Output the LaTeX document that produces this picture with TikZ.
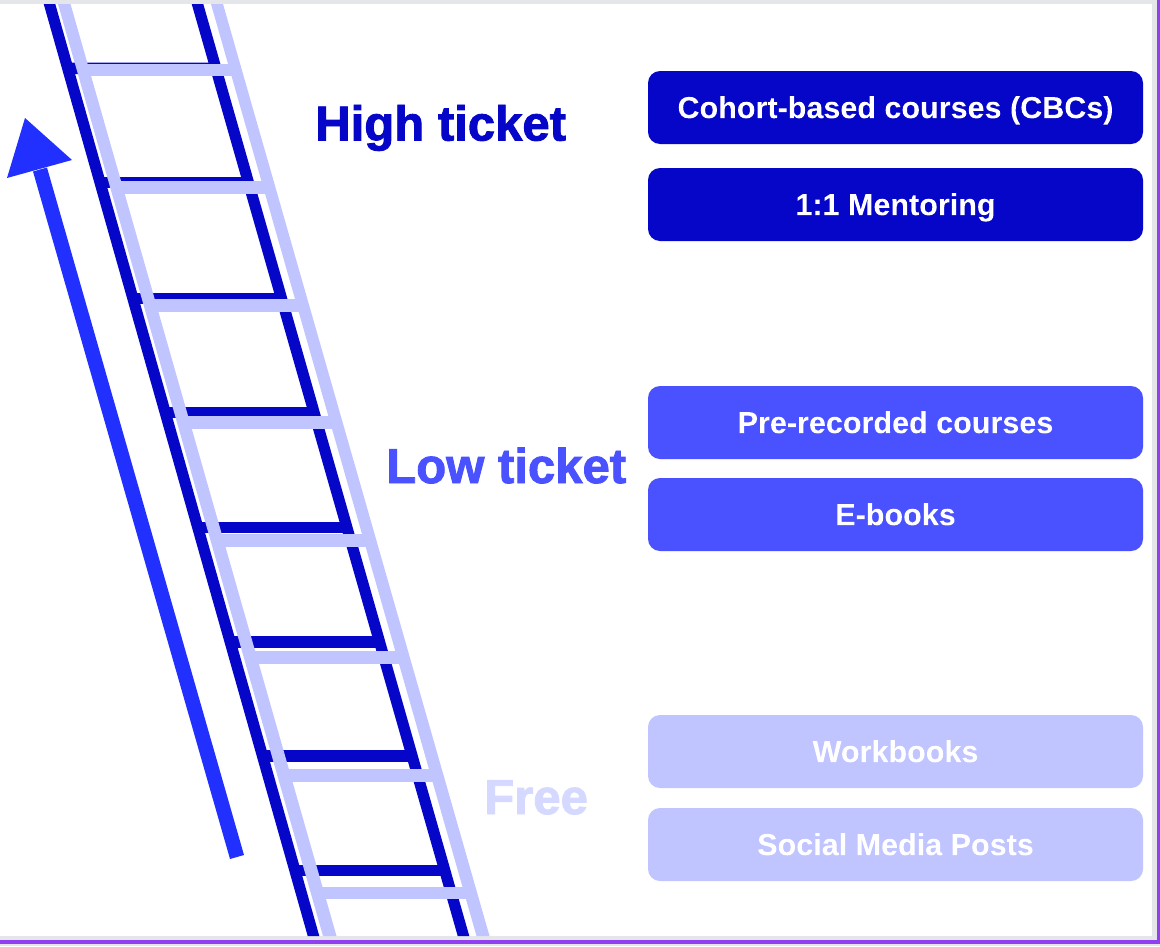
\documentclass[tikz,border=0pt]{standalone}
\usepackage{fontspec}
\setmainfont{Liberation Sans}
\newfontfamily\heavyfont[FakeBold=1.8]{Liberation Sans Bold}
\definecolor{inkdark}{RGB}{6,6,200}
\definecolor{inkmid}{RGB}{74,82,255}
\definecolor{inklight}{RGB}{192,196,255}
\definecolor{inkarrow}{RGB}{34,48,255}
\definecolor{inkfree}{RGB}{214,217,255}
\definecolor{framegray}{RGB}{228,230,234}
\definecolor{framepurple}{RGB}{144,64,240}
\tikzset{
	darkbar/.style={draw opacity=0,fill=inkdark},
	lightbar/.style={draw opacity=0,fill=inklight},
	offerbox/.style={rounded corners=9pt,draw opacity=0,minimum width=371.25pt,minimum height=54.75pt,inner sep=0pt,text height=16pt,text depth=0pt,text=white,font=\heavyfont\fontsize{22.9pt}{26pt}\selectfont},
	ticketlabel/.style={inner sep=0pt,font=\heavyfont\fontsize{36.8pt}{42pt}\selectfont}
}
\begin{document}
\begin{tikzpicture}[x=0.75pt,y=0.75pt,yscale=-1,xscale=1]
	\useasboundingbox (0,0) rectangle (1160,946);

	%Frame
	\fill [framegray] (0,0) rectangle (1160,946);
	\fill [white] (0,4) rectangle (1152,936);
	\fill [framepurple] (1157,0) rectangle (1160,944);
	\fill [framepurple] (0,940) rectangle (1160,944);

	%Dark rails
	\draw [darkbar] (43.7,4) -- (55.3,4) -- (319.3,936) -- (307.7,936) -- cycle ;
	\draw [darkbar] (191.7,4) -- (203.3,4) -- (469.3,936) -- (457.7,936) -- cycle ;
	%Dark rungs
	\draw [darkbar] (67.6,62.5) -- (215.8,62.5) -- (219,74) -- (67.6,74) -- cycle ;
	\draw [darkbar] (100,177) rectangle (251,188) ;
	\draw [darkbar] (132.8,292.5) rectangle (284,303.5) ;
	\draw [darkbar] (165,406.5) rectangle (317,417.5) ;
	\draw [darkbar] (197.7,522) rectangle (350,533) ;
	\draw [darkbar] (230.2,636) rectangle (383,648) ;
	\draw [darkbar] (262.5,750) rectangle (415,762) ;
	\draw [darkbar] (295,865) rectangle (448,876) ;

	%Light rails
	\draw [lightbar] (58,4) -- (70.5,4) -- (336.5,936) -- (323,936) -- cycle ;
	\draw [lightbar] (211,4) -- (223,4) -- (489.5,936) -- (476.5,936) -- cycle ;
	%Light rungs
	\draw [lightbar] (82.9,63.5) rectangle (235.7,76) ;
	\draw [lightbar] (116.3,181) rectangle (269.2,193.5) ;
	\draw [lightbar] (149.9,299) rectangle (302.9,311.5) ;
	\draw [lightbar] (183.2,416) rectangle (336.3,428.5) ;
	\draw [lightbar] (216.8,534) rectangle (370,546.5) ;
	\draw [lightbar] (250.1,651) rectangle (403.4,663.5) ;
	\draw [lightbar] (283.7,769) rectangle (437,781.5) ;
	\draw [lightbar] (317.1,886.5) rectangle (470.6,898.5) ;

	%Rising arrow
	\coordinate (arrowtail) at (237,857) ;
	\coordinate (arrowbase) at (40,169.5) ;
	\draw [inkarrow,line width=10.9pt] (arrowtail) -- (arrowbase) ;
	\draw [draw opacity=0,fill=inkarrow] (25,118) -- (72,160) -- (7,178) -- cycle ;

	%Ticket labels
	\node (hightext) [ticketlabel,text=inkdark,anchor=base west] at (315,140.5) {High ticket};
	\node (lowtext) [ticketlabel,text=inkmid,anchor=base west] at (386,483) {Low ticket};
	\node (freetext) [ticketlabel,text=inkfree,anchor=base west] at (484,814) {Free};

	%Offer boxes
	\node (cohortbox) [offerbox,fill=inkdark] at (895.5,107.5) {Cohort-based courses (CBCs)};
	\node (mentorbox) [offerbox,fill=inkdark] at (895.5,204.5) {1:1 Mentoring};
	\node (recordedbox) [offerbox,fill=inkmid] at (895.5,422.5) {Pre-recorded courses};
	\node (ebookbox) [offerbox,fill=inkmid] at (895.5,514.5) {E-books};
	\node (workbookbox) [offerbox,fill=inklight] at (895.5,751.5) {Workbooks};
	\node (socialbox) [offerbox,fill=inklight] at (895.5,844.5) {Social Media Posts};
\end{tikzpicture}
\end{document}
